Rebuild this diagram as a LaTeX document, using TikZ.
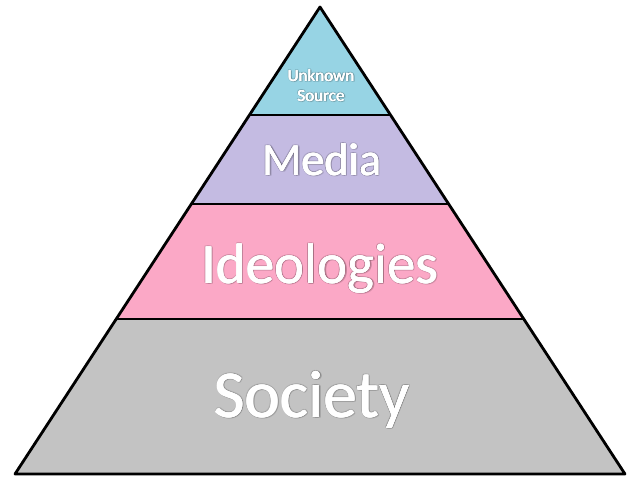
\documentclass[tikz,border=0pt]{standalone}
\usepackage{fontspec}
\setmainfont{Carlito}
\usepackage{tikz}
\usetikzlibrary{calc}
\definecolor{topblue}{RGB}{151,212,228}
\definecolor{medialilac}{RGB}{196,187,226}
\definecolor{ideopink}{RGB}{251,168,198}
\definecolor{socgrey}{RGB}{195,195,195}
\tikzset{
  layer/.style={draw=black, line width=2.8pt, line join=round},
  label/.style={text=white, anchor=base, inner sep=0pt, align=center},
  shade/.style={text=black, opacity=0.12, anchor=base, inner sep=0pt, align=center},
}
\newcommand{\tiertext}[4]{%
  \foreach \dx/\dy in {1.5/1.5, -0.8/0.8, 0.8/-0.8, 1.5/0, 0/1.5, -1/-1} {
    \node[shade, font=\fontsize{#3}{#3}\selectfont] at ($(#1)+(\dx,\dy)$) {#4};
  }
  \foreach \dx/\dy in {0.3/0, -0.3/0, 0/0.3} {
    \node[label, font=\fontsize{#3}{#3}\selectfont] at ($(#1)+(\dx,\dy)$) {#4};
  }
  \node[label, font=\fontsize{#3}{#3}\selectfont] (#2) at (#1) {#4};
}

\begin{document}
\begin{tikzpicture}[x=1pt, y=-1pt]
  \useasboundingbox (0,0) rectangle (638,479);

  \coordinate (apex) at (320,7);
  \coordinate (bl) at (15,474);
  \coordinate (br) at (625,474);

  % cut lines between the tiers
  \foreach \name/\yy in {cutA/115, cutB/204, cutC/319} {
    \coordinate (\name L) at ($(apex)!{(\yy-7)/467}!(bl)$);
    \coordinate (\name R) at ($(apex)!{(\yy-7)/467}!(br)$);
  }

  \fill[socgrey] (cutCL) -- (cutCR) -- (br) -- (bl) -- cycle;
  \fill[ideopink] (cutBL) -- (cutBR) -- (cutCR) -- (cutCL) -- cycle;
  \fill[medialilac] (cutAL) -- (cutAR) -- (cutBR) -- (cutBL) -- cycle;
  \fill[topblue] (apex) -- (cutAR) -- (cutAL) -- cycle;

  \draw[layer] (apex) -- (br) -- (bl) -- cycle;
  \draw[layer] (cutAL) -- (cutAR);
  \draw[layer] (cutBL) -- (cutBR);
  \draw[layer] (cutCL) -- (cutCR);

  % tier labels
  \coordinate (posU) at (321,81);
  \coordinate (posS) at (321,101);
  \coordinate (posM) at (322,175);
  \coordinate (posI) at (320,283);
  \coordinate (posY) at (312,417);
  \tiertext{posU}{unknown}{17}{Unknown}
  \tiertext{posS}{source}{17}{Source}
  \tiertext{posM}{media}{46}{Media}
  \tiertext{posI}{ideologies}{57}{Ideologies}
  \tiertext{posY}{society}{67}{Society}
\end{tikzpicture}
\end{document}
